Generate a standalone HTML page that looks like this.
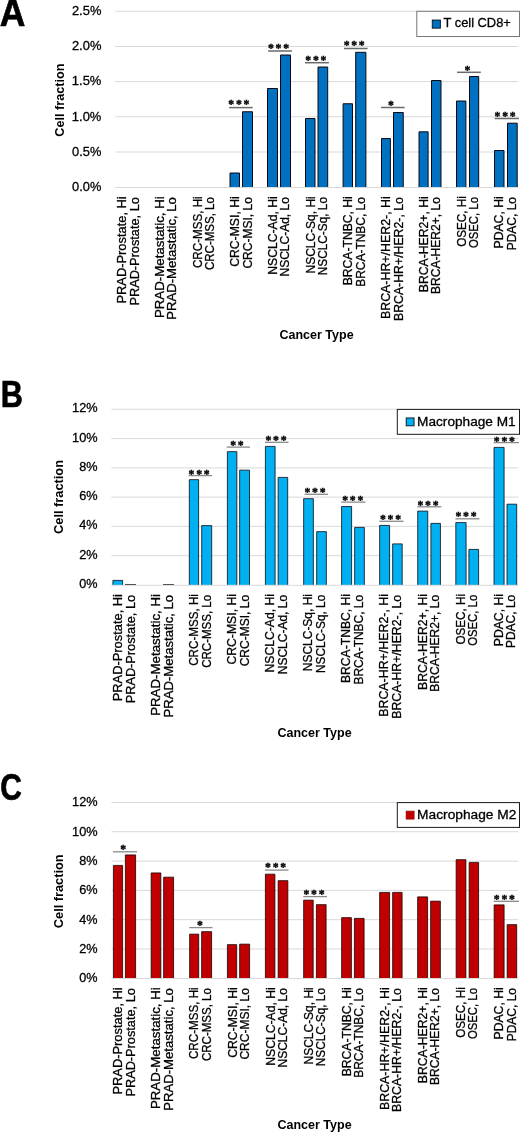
<!DOCTYPE html>
<html><head><meta charset="utf-8"><title>Figure</title>
<style>html,body{margin:0;padding:0;background:#fff}svg{display:block}text{font-family:"Liberation Sans",sans-serif}text.st{font-family:"Liberation Serif",serif;font-weight:bold;stroke:#000;stroke-width:0.4px}text.r{stroke:#000;stroke-width:0.3px}</style>
</head><body>
<svg width="520" height="1133" viewBox="0 0 520 1133">
<rect width="520" height="1133" fill="#fff"/>
<line x1="115.30" y1="11.25" x2="518.30" y2="11.25" stroke="#d9d9d9" stroke-width="1.0"/>
<line x1="115.30" y1="46.50" x2="518.30" y2="46.50" stroke="#d9d9d9" stroke-width="1.0"/>
<line x1="115.30" y1="81.60" x2="518.30" y2="81.60" stroke="#d9d9d9" stroke-width="1.0"/>
<line x1="115.30" y1="116.75" x2="518.30" y2="116.75" stroke="#d9d9d9" stroke-width="1.0"/>
<line x1="115.30" y1="152.00" x2="518.30" y2="152.00" stroke="#d9d9d9" stroke-width="1.0"/>
<text transform="translate(71.95,15.05) scale(0.9752,1)" font-size="13.24" class="r" fill="#000">2.5%</text>
<text transform="translate(71.95,50.30) scale(0.9752,1)" font-size="13.24" class="r" fill="#000">2.0%</text>
<text transform="translate(71.83,85.40) scale(0.9794,1)" font-size="13.24" class="r" fill="#000">1.5%</text>
<text transform="translate(71.83,120.55) scale(0.9794,1)" font-size="13.24" class="r" fill="#000">1.0%</text>
<text transform="translate(72.09,155.80) scale(0.9707,1)" font-size="13.24" class="r" fill="#000">0.5%</text>
<text transform="translate(72.09,191.05) scale(0.9707,1)" font-size="13.24" class="r" fill="#000">0.0%</text>
<path d="M230.00,187.25V173.00H239.50V187.25" fill="#0070c0" stroke="#0a0a14" stroke-width="1.0"/>
<path d="M242.50,187.25V111.75H252.50V187.25" fill="#0070c0" stroke="#0a0a14" stroke-width="1.0"/>
<path d="M267.50,187.25V88.50H277.50V187.25" fill="#0070c0" stroke="#0a0a14" stroke-width="1.0"/>
<path d="M280.50,187.25V55.00H290.50V187.25" fill="#0070c0" stroke="#0a0a14" stroke-width="1.0"/>
<path d="M305.50,187.25V118.50H315.00V187.25" fill="#0070c0" stroke="#0a0a14" stroke-width="1.0"/>
<path d="M318.00,187.25V67.00H327.70V187.25" fill="#0070c0" stroke="#0a0a14" stroke-width="1.0"/>
<path d="M343.10,187.25V103.75H352.50V187.25" fill="#0070c0" stroke="#0a0a14" stroke-width="1.0"/>
<path d="M355.70,187.25V52.30H365.90V187.25" fill="#0070c0" stroke="#0a0a14" stroke-width="1.0"/>
<path d="M381.50,187.25V138.50H390.40V187.25" fill="#0070c0" stroke="#0a0a14" stroke-width="1.0"/>
<path d="M393.50,187.25V112.50H403.25V187.25" fill="#0070c0" stroke="#0a0a14" stroke-width="1.0"/>
<path d="M419.00,187.25V131.80H428.10V187.25" fill="#0070c0" stroke="#0a0a14" stroke-width="1.0"/>
<path d="M431.50,187.25V80.50H441.00V187.25" fill="#0070c0" stroke="#0a0a14" stroke-width="1.0"/>
<path d="M456.50,187.25V101.00H465.90V187.25" fill="#0070c0" stroke="#0a0a14" stroke-width="1.0"/>
<path d="M469.50,187.25V76.50H478.70V187.25" fill="#0070c0" stroke="#0a0a14" stroke-width="1.0"/>
<path d="M494.50,187.25V150.50H504.00V187.25" fill="#0070c0" stroke="#0a0a14" stroke-width="1.0"/>
<path d="M507.50,187.25V123.20H517.20V187.25" fill="#0070c0" stroke="#0a0a14" stroke-width="1.0"/>
<line x1="115.30" y1="187.55" x2="518.30" y2="187.55" stroke="#d9d9d9" stroke-width="1.0"/>
<line x1="229.10" y1="107.60" x2="252.70" y2="107.60" stroke="#6a6a6a" stroke-width="1.5"/>
<text class="st" transform="translate(228.36,108.20) scale(0.84,0.94)" font-size="14.0">*</text>
<text class="st" transform="translate(235.96,108.20) scale(0.84,0.94)" font-size="14.0">*</text>
<text class="st" transform="translate(243.56,108.20) scale(0.84,0.94)" font-size="14.0">*</text>
<line x1="268.10" y1="51.00" x2="291.90" y2="51.00" stroke="#6a6a6a" stroke-width="1.5"/>
<text class="st" transform="translate(267.96,51.60) scale(0.84,0.94)" font-size="14.0">*</text>
<text class="st" transform="translate(275.56,51.60) scale(0.84,0.94)" font-size="14.0">*</text>
<text class="st" transform="translate(283.16,51.60) scale(0.84,0.94)" font-size="14.0">*</text>
<line x1="305.00" y1="62.70" x2="328.85" y2="62.70" stroke="#6a6a6a" stroke-width="1.5"/>
<text class="st" transform="translate(305.31,64.30) scale(0.84,0.94)" font-size="14.0">*</text>
<text class="st" transform="translate(312.91,64.30) scale(0.84,0.94)" font-size="14.0">*</text>
<text class="st" transform="translate(320.51,64.30) scale(0.84,0.94)" font-size="14.0">*</text>
<line x1="343.90" y1="48.50" x2="367.60" y2="48.50" stroke="#6a6a6a" stroke-width="1.5"/>
<text class="st" transform="translate(343.66,49.40) scale(0.84,0.94)" font-size="14.0">*</text>
<text class="st" transform="translate(351.26,49.40) scale(0.84,0.94)" font-size="14.0">*</text>
<text class="st" transform="translate(358.86,49.40) scale(0.84,0.94)" font-size="14.0">*</text>
<line x1="381.00" y1="107.50" x2="404.60" y2="107.50" stroke="#6a6a6a" stroke-width="1.5"/>
<text class="st" transform="translate(388.11,109.40) scale(0.84,0.94)" font-size="14.0">*</text>
<line x1="457.10" y1="72.30" x2="480.80" y2="72.30" stroke="#6a6a6a" stroke-width="1.5"/>
<text class="st" transform="translate(464.56,73.60) scale(0.84,0.94)" font-size="14.0">*</text>
<line x1="494.60" y1="118.50" x2="518.90" y2="118.50" stroke="#6a6a6a" stroke-width="1.5"/>
<text class="st" transform="translate(494.61,120.30) scale(0.84,0.94)" font-size="14.0">*</text>
<text class="st" transform="translate(502.21,120.30) scale(0.84,0.94)" font-size="14.0">*</text>
<text class="st" transform="translate(509.81,120.30) scale(0.84,0.94)" font-size="14.0">*</text>
<text transform="translate(126.10,303.56) rotate(-90) scale(0.9846,1)" font-size="13.09" class="r" fill="#000">PRAD-Prostate, Hi</text>
<text transform="translate(138.50,305.55) rotate(-90) scale(0.9754,1)" font-size="13.09" class="r" fill="#000">PRAD-Prostate, Lo</text>
<text transform="translate(163.82,318.10) rotate(-90) scale(1.0163,1)" font-size="13.09" class="r" fill="#000">PRAD-Metastatic, Hi</text>
<text transform="translate(176.22,319.84) rotate(-90) scale(1.0054,1)" font-size="13.09" class="r" fill="#000">PRAD-Metastatic, Lo</text>
<text transform="translate(201.54,268.08) rotate(-90) scale(0.8902,1)" font-size="13.09" class="r" fill="#000">CRC-MSS, Hi</text>
<text transform="translate(213.94,270.08) rotate(-90) scale(0.8811,1)" font-size="13.09" class="r" fill="#000">CRC-MSS, Lo</text>
<text transform="translate(239.26,266.86) rotate(-90) scale(0.9346,1)" font-size="13.09" class="r" fill="#000">CRC-MSI, Hi</text>
<text transform="translate(251.66,268.60) rotate(-90) scale(0.9198,1)" font-size="13.09" class="r" fill="#000">CRC-MSI, Lo</text>
<text transform="translate(276.98,274.76) rotate(-90) scale(0.9310,1)" font-size="13.09" class="r" fill="#000">NSCLC-Ad, Hi</text>
<text transform="translate(289.38,276.49) rotate(-90) scale(0.9181,1)" font-size="13.09" class="r" fill="#000">NSCLC-Ad, Lo</text>
<text transform="translate(314.70,273.49) rotate(-90) scale(0.9158,1)" font-size="13.09" class="r" fill="#000">NSCLC-Sq, Hi</text>
<text transform="translate(327.10,275.23) rotate(-90) scale(0.9034,1)" font-size="13.09" class="r" fill="#000">NSCLC-Sq, Lo</text>
<text transform="translate(352.42,285.25) rotate(-90) scale(0.9276,1)" font-size="13.09" class="r" fill="#000">BRCA-TNBC, Hi</text>
<text transform="translate(364.82,286.74) rotate(-90) scale(0.9138,1)" font-size="13.09" class="r" fill="#000">BRCA-TNBC, Lo</text>
<text transform="translate(390.14,319.02) rotate(-90) scale(0.9463,1)" font-size="13.09" class="r" fill="#000">BRCA-HR+/HER2-, Hi</text>
<text transform="translate(402.54,321.01) rotate(-90) scale(0.9393,1)" font-size="13.09" class="r" fill="#000">BRCA-HR+/HER2-, Lo</text>
<text transform="translate(427.86,292.26) rotate(-90) scale(0.9335,1)" font-size="13.09" class="r" fill="#000">BRCA-HER2+, Hi</text>
<text transform="translate(440.26,294.00) rotate(-90) scale(0.9226,1)" font-size="13.09" class="r" fill="#000">BRCA-HER2+, Lo</text>
<text transform="translate(465.58,246.80) rotate(-90) scale(0.8915,1)" font-size="13.09" class="r" fill="#000">OSEC, Hi</text>
<text transform="translate(477.98,248.04) rotate(-90) scale(0.8656,1)" font-size="13.09" class="r" fill="#000">OSEC, Lo</text>
<text transform="translate(503.30,248.51) rotate(-90) scale(0.9341,1)" font-size="13.09" class="r" fill="#000">PDAC, Hi</text>
<text transform="translate(515.70,250.24) rotate(-90) scale(0.9145,1)" font-size="13.09" class="r" fill="#000">PDAC, Lo</text>
<text transform="translate(279.50,338.75) scale(0.9664,1)" font-size="12.95" font-weight="bold" fill="#000">Cancer Type</text>
<text transform="translate(64.30,136.66) rotate(-90) scale(0.9796,1)" font-size="12.95" font-weight="bold" fill="#000">Cell fraction</text>
<rect x="416.80" y="11.30" width="102.70" height="25.20" fill="#fff" stroke="#767676" stroke-width="1.0"/>
<rect x="432.25" y="20.05" width="8.10" height="8.10" fill="#0070c0" stroke="#0a0a14" stroke-width="0.9"/>
<text transform="translate(443.51,27.30) scale(0.9840,1)" font-size="13.09" class="r" fill="#000">T cell CD8+</text>
<text transform="translate(-0.29,26.15) scale(0.9286,1)" font-size="38.25" font-weight="bold" stroke="#000" stroke-width="0.7" stroke-linejoin="round" fill="#000">A</text>
<line x1="111.40" y1="409.25" x2="518.30" y2="409.25" stroke="#d9d9d9" stroke-width="1.0"/>
<line x1="111.40" y1="438.60" x2="518.30" y2="438.60" stroke="#d9d9d9" stroke-width="1.0"/>
<line x1="111.40" y1="467.90" x2="518.30" y2="467.90" stroke="#d9d9d9" stroke-width="1.0"/>
<line x1="111.40" y1="497.10" x2="518.30" y2="497.10" stroke="#d9d9d9" stroke-width="1.0"/>
<line x1="111.40" y1="526.40" x2="518.30" y2="526.40" stroke="#d9d9d9" stroke-width="1.0"/>
<line x1="111.40" y1="555.70" x2="518.30" y2="555.70" stroke="#d9d9d9" stroke-width="1.0"/>
<text transform="translate(72.04,412.25) scale(0.9634,1)" font-size="13.24" class="r" fill="#000">12%</text>
<text transform="translate(72.04,441.60) scale(0.9634,1)" font-size="13.24" class="r" fill="#000">10%</text>
<text transform="translate(79.26,470.90) scale(0.9575,1)" font-size="13.24" class="r" fill="#000">8%</text>
<text transform="translate(79.16,500.10) scale(0.9628,1)" font-size="13.24" class="r" fill="#000">6%</text>
<text transform="translate(79.32,529.40) scale(0.9546,1)" font-size="13.24" class="r" fill="#000">4%</text>
<text transform="translate(79.16,558.70) scale(0.9628,1)" font-size="13.24" class="r" fill="#000">2%</text>
<text transform="translate(79.29,588.00) scale(0.9558,1)" font-size="13.24" class="r" fill="#000">0%</text>
<path d="M112.90,585.00V580.40H122.60V585.00" fill="#00b0f0" stroke="#0a0a14" stroke-width="0.8"/>
<line x1="125.00" y1="584.50" x2="136.00" y2="584.50" stroke="#333" stroke-width="1.0"/>
<line x1="163.00" y1="584.50" x2="174.00" y2="584.50" stroke="#333" stroke-width="1.0"/>
<path d="M189.30,585.00V479.65H198.60V585.00" fill="#00b0f0" stroke="#0a0a14" stroke-width="0.8"/>
<path d="M201.70,585.00V525.60H211.70V585.00" fill="#00b0f0" stroke="#0a0a14" stroke-width="0.8"/>
<path d="M227.40,585.00V451.65H236.85V585.00" fill="#00b0f0" stroke="#0a0a14" stroke-width="0.8"/>
<path d="M239.65,585.00V470.15H249.50V585.00" fill="#00b0f0" stroke="#0a0a14" stroke-width="0.8"/>
<path d="M265.40,585.00V446.40H275.10V585.00" fill="#00b0f0" stroke="#0a0a14" stroke-width="0.8"/>
<path d="M278.15,585.00V477.40H287.70V585.00" fill="#00b0f0" stroke="#0a0a14" stroke-width="0.8"/>
<path d="M303.65,585.00V498.65H313.35V585.00" fill="#00b0f0" stroke="#0a0a14" stroke-width="0.8"/>
<path d="M316.65,585.00V531.65H326.35V585.00" fill="#00b0f0" stroke="#0a0a14" stroke-width="0.8"/>
<path d="M341.60,585.00V506.50H351.60V585.00" fill="#00b0f0" stroke="#0a0a14" stroke-width="0.8"/>
<path d="M354.65,585.00V527.40H364.35V585.00" fill="#00b0f0" stroke="#0a0a14" stroke-width="0.8"/>
<path d="M379.65,585.00V525.40H389.60V585.00" fill="#00b0f0" stroke="#0a0a14" stroke-width="0.8"/>
<path d="M392.65,585.00V543.90H402.20V585.00" fill="#00b0f0" stroke="#0a0a14" stroke-width="0.8"/>
<path d="M417.70,585.00V511.10H427.75V585.00" fill="#00b0f0" stroke="#0a0a14" stroke-width="0.8"/>
<path d="M430.90,585.00V523.40H440.45V585.00" fill="#00b0f0" stroke="#0a0a14" stroke-width="0.8"/>
<path d="M455.80,585.00V522.60H466.10V585.00" fill="#00b0f0" stroke="#0a0a14" stroke-width="0.8"/>
<path d="M468.90,585.00V549.40H478.60V585.00" fill="#00b0f0" stroke="#0a0a14" stroke-width="0.8"/>
<path d="M494.00,585.00V447.40H504.10V585.00" fill="#00b0f0" stroke="#0a0a14" stroke-width="0.8"/>
<path d="M507.00,585.00V504.20H516.70V585.00" fill="#00b0f0" stroke="#0a0a14" stroke-width="0.8"/>
<line x1="111.40" y1="585.30" x2="518.30" y2="585.30" stroke="#d9d9d9" stroke-width="1.0"/>
<line x1="188.75" y1="475.60" x2="212.00" y2="475.60" stroke="#8a8a8a" stroke-width="1.3"/>
<text class="st" transform="translate(188.56,477.90) scale(0.84,0.94)" font-size="14.0">*</text>
<text class="st" transform="translate(196.16,477.90) scale(0.84,0.94)" font-size="14.0">*</text>
<text class="st" transform="translate(203.76,477.90) scale(0.84,0.94)" font-size="14.0">*</text>
<line x1="226.75" y1="447.10" x2="250.00" y2="447.10" stroke="#8a8a8a" stroke-width="1.3"/>
<text class="st" transform="translate(230.16,449.40) scale(0.84,0.94)" font-size="14.0">*</text>
<text class="st" transform="translate(237.76,449.40) scale(0.84,0.94)" font-size="14.0">*</text>
<line x1="265.00" y1="442.30" x2="288.50" y2="442.30" stroke="#8a8a8a" stroke-width="1.3"/>
<text class="st" transform="translate(265.46,443.70) scale(0.84,0.94)" font-size="14.0">*</text>
<text class="st" transform="translate(273.06,443.70) scale(0.84,0.94)" font-size="14.0">*</text>
<text class="st" transform="translate(280.66,443.70) scale(0.84,0.94)" font-size="14.0">*</text>
<line x1="304.50" y1="494.30" x2="328.00" y2="494.30" stroke="#8a8a8a" stroke-width="1.3"/>
<text class="st" transform="translate(304.46,495.90) scale(0.84,0.94)" font-size="14.0">*</text>
<text class="st" transform="translate(312.06,495.90) scale(0.84,0.94)" font-size="14.0">*</text>
<text class="st" transform="translate(319.66,495.90) scale(0.84,0.94)" font-size="14.0">*</text>
<line x1="341.25" y1="502.10" x2="365.50" y2="502.10" stroke="#8a8a8a" stroke-width="1.3"/>
<text class="st" transform="translate(342.21,503.70) scale(0.84,0.94)" font-size="14.0">*</text>
<text class="st" transform="translate(349.81,503.70) scale(0.84,0.94)" font-size="14.0">*</text>
<text class="st" transform="translate(357.41,503.70) scale(0.84,0.94)" font-size="14.0">*</text>
<line x1="379.25" y1="521.30" x2="403.50" y2="521.30" stroke="#8a8a8a" stroke-width="1.3"/>
<text class="st" transform="translate(379.96,522.50) scale(0.84,0.94)" font-size="14.0">*</text>
<text class="st" transform="translate(387.56,522.50) scale(0.84,0.94)" font-size="14.0">*</text>
<text class="st" transform="translate(395.16,522.50) scale(0.84,0.94)" font-size="14.0">*</text>
<line x1="417.30" y1="506.80" x2="441.30" y2="506.80" stroke="#8a8a8a" stroke-width="1.3"/>
<text class="st" transform="translate(417.46,508.60) scale(0.84,0.94)" font-size="14.0">*</text>
<text class="st" transform="translate(425.06,508.60) scale(0.84,0.94)" font-size="14.0">*</text>
<text class="st" transform="translate(432.66,508.60) scale(0.84,0.94)" font-size="14.0">*</text>
<line x1="455.40" y1="518.80" x2="479.50" y2="518.80" stroke="#8a8a8a" stroke-width="1.3"/>
<text class="st" transform="translate(455.46,520.40) scale(0.84,0.94)" font-size="14.0">*</text>
<text class="st" transform="translate(463.06,520.40) scale(0.84,0.94)" font-size="14.0">*</text>
<text class="st" transform="translate(470.66,520.40) scale(0.84,0.94)" font-size="14.0">*</text>
<line x1="493.75" y1="442.60" x2="518.90" y2="442.60" stroke="#8a8a8a" stroke-width="1.3"/>
<text class="st" transform="translate(493.86,444.80) scale(0.84,0.94)" font-size="14.0">*</text>
<text class="st" transform="translate(501.46,444.80) scale(0.84,0.94)" font-size="14.0">*</text>
<text class="st" transform="translate(509.06,444.80) scale(0.84,0.94)" font-size="14.0">*</text>
<text transform="translate(122.00,701.31) rotate(-90) scale(0.9846,1)" font-size="13.09" class="r" fill="#000">PRAD-Prostate, Hi</text>
<text transform="translate(134.50,703.30) rotate(-90) scale(0.9754,1)" font-size="13.09" class="r" fill="#000">PRAD-Prostate, Lo</text>
<text transform="translate(160.07,715.85) rotate(-90) scale(1.0163,1)" font-size="13.09" class="r" fill="#000">PRAD-Metastatic, Hi</text>
<text transform="translate(172.57,717.59) rotate(-90) scale(1.0054,1)" font-size="13.09" class="r" fill="#000">PRAD-Metastatic, Lo</text>
<text transform="translate(198.14,665.83) rotate(-90) scale(0.8902,1)" font-size="13.09" class="r" fill="#000">CRC-MSS, Hi</text>
<text transform="translate(210.64,667.83) rotate(-90) scale(0.8811,1)" font-size="13.09" class="r" fill="#000">CRC-MSS, Lo</text>
<text transform="translate(236.21,664.61) rotate(-90) scale(0.9346,1)" font-size="13.09" class="r" fill="#000">CRC-MSI, Hi</text>
<text transform="translate(248.71,666.35) rotate(-90) scale(0.9198,1)" font-size="13.09" class="r" fill="#000">CRC-MSI, Lo</text>
<text transform="translate(274.28,672.51) rotate(-90) scale(0.9310,1)" font-size="13.09" class="r" fill="#000">NSCLC-Ad, Hi</text>
<text transform="translate(286.78,674.24) rotate(-90) scale(0.9181,1)" font-size="13.09" class="r" fill="#000">NSCLC-Ad, Lo</text>
<text transform="translate(312.35,671.24) rotate(-90) scale(0.9158,1)" font-size="13.09" class="r" fill="#000">NSCLC-Sq, Hi</text>
<text transform="translate(324.85,672.98) rotate(-90) scale(0.9034,1)" font-size="13.09" class="r" fill="#000">NSCLC-Sq, Lo</text>
<text transform="translate(350.42,683.00) rotate(-90) scale(0.9276,1)" font-size="13.09" class="r" fill="#000">BRCA-TNBC, Hi</text>
<text transform="translate(362.92,684.49) rotate(-90) scale(0.9138,1)" font-size="13.09" class="r" fill="#000">BRCA-TNBC, Lo</text>
<text transform="translate(388.49,716.77) rotate(-90) scale(0.9463,1)" font-size="13.09" class="r" fill="#000">BRCA-HR+/HER2-, Hi</text>
<text transform="translate(400.99,718.76) rotate(-90) scale(0.9393,1)" font-size="13.09" class="r" fill="#000">BRCA-HR+/HER2-, Lo</text>
<text transform="translate(426.56,690.01) rotate(-90) scale(0.9335,1)" font-size="13.09" class="r" fill="#000">BRCA-HER2+, Hi</text>
<text transform="translate(439.06,691.75) rotate(-90) scale(0.9226,1)" font-size="13.09" class="r" fill="#000">BRCA-HER2+, Lo</text>
<text transform="translate(464.63,644.55) rotate(-90) scale(0.8915,1)" font-size="13.09" class="r" fill="#000">OSEC, Hi</text>
<text transform="translate(477.13,645.79) rotate(-90) scale(0.8656,1)" font-size="13.09" class="r" fill="#000">OSEC, Lo</text>
<text transform="translate(502.70,646.26) rotate(-90) scale(0.9341,1)" font-size="13.09" class="r" fill="#000">PDAC, Hi</text>
<text transform="translate(515.20,647.99) rotate(-90) scale(0.9145,1)" font-size="13.09" class="r" fill="#000">PDAC, Lo</text>
<text transform="translate(277.50,736.75) scale(0.9664,1)" font-size="12.95" font-weight="bold" fill="#000">Cancer Type</text>
<text transform="translate(62.70,533.91) rotate(-90) scale(0.9878,1)" font-size="12.95" font-weight="bold" fill="#000">Cell fraction</text>
<rect x="397.30" y="409.40" width="122.20" height="24.90" fill="#fff" stroke="#1a1a1a" stroke-width="1.0"/>
<rect x="406.20" y="417.95" width="7.85" height="7.85" fill="#00b0f0" stroke="#0a0a14" stroke-width="0.9"/>
<text transform="translate(417.12,425.60) scale(1.0417,1)" font-size="13.09" class="r" fill="#000">Macrophage M1</text>
<text transform="translate(0.78,407.35) scale(0.8106,1)" font-size="37.82" font-weight="bold" stroke="#000" stroke-width="0.7" stroke-linejoin="round" fill="#000">B</text>
<line x1="111.40" y1="802.50" x2="518.30" y2="802.50" stroke="#d9d9d9" stroke-width="1.0"/>
<line x1="111.40" y1="831.75" x2="518.30" y2="831.75" stroke="#d9d9d9" stroke-width="1.0"/>
<line x1="111.40" y1="861.10" x2="518.30" y2="861.10" stroke="#d9d9d9" stroke-width="1.0"/>
<line x1="111.40" y1="890.40" x2="518.30" y2="890.40" stroke="#d9d9d9" stroke-width="1.0"/>
<line x1="111.40" y1="919.70" x2="518.30" y2="919.70" stroke="#d9d9d9" stroke-width="1.0"/>
<line x1="111.40" y1="949.00" x2="518.30" y2="949.00" stroke="#d9d9d9" stroke-width="1.0"/>
<text transform="translate(72.04,806.30) scale(0.9634,1)" font-size="13.24" class="r" fill="#000">12%</text>
<text transform="translate(72.04,835.55) scale(0.9634,1)" font-size="13.24" class="r" fill="#000">10%</text>
<text transform="translate(79.26,864.90) scale(0.9575,1)" font-size="13.24" class="r" fill="#000">8%</text>
<text transform="translate(79.16,894.20) scale(0.9628,1)" font-size="13.24" class="r" fill="#000">6%</text>
<text transform="translate(79.32,923.50) scale(0.9546,1)" font-size="13.24" class="r" fill="#000">4%</text>
<text transform="translate(79.16,952.80) scale(0.9628,1)" font-size="13.24" class="r" fill="#000">2%</text>
<text transform="translate(79.29,982.05) scale(0.9558,1)" font-size="13.24" class="r" fill="#000">0%</text>
<path d="M113.40,978.25V865.40H122.60V978.25" fill="#c00000" stroke="#1a0000" stroke-width="0.8"/>
<path d="M125.40,978.25V854.90H135.60V978.25" fill="#c00000" stroke="#1a0000" stroke-width="0.8"/>
<path d="M151.15,978.25V872.90H160.85V978.25" fill="#c00000" stroke="#1a0000" stroke-width="0.8"/>
<path d="M163.65,978.25V877.15H173.60V978.25" fill="#c00000" stroke="#1a0000" stroke-width="0.8"/>
<path d="M189.65,978.25V934.15H198.70V978.25" fill="#c00000" stroke="#1a0000" stroke-width="0.8"/>
<path d="M201.65,978.25V931.65H211.60V978.25" fill="#c00000" stroke="#1a0000" stroke-width="0.8"/>
<path d="M227.40,978.25V944.65H236.70V978.25" fill="#c00000" stroke="#1a0000" stroke-width="0.8"/>
<path d="M239.65,978.25V944.15H249.60V978.25" fill="#c00000" stroke="#1a0000" stroke-width="0.8"/>
<path d="M265.40,978.25V874.15H274.90V978.25" fill="#c00000" stroke="#1a0000" stroke-width="0.8"/>
<path d="M278.15,978.25V880.65H287.85V978.25" fill="#c00000" stroke="#1a0000" stroke-width="0.8"/>
<path d="M303.65,978.25V900.15H313.20V978.25" fill="#c00000" stroke="#1a0000" stroke-width="0.8"/>
<path d="M316.40,978.25V904.65H326.10V978.25" fill="#c00000" stroke="#1a0000" stroke-width="0.8"/>
<path d="M341.65,978.25V917.65H351.40V978.25" fill="#c00000" stroke="#1a0000" stroke-width="0.8"/>
<path d="M354.40,978.25V918.40H364.10V978.25" fill="#c00000" stroke="#1a0000" stroke-width="0.8"/>
<path d="M379.65,978.25V892.40H389.60V978.25" fill="#c00000" stroke="#1a0000" stroke-width="0.8"/>
<path d="M392.65,978.25V892.40H402.10V978.25" fill="#c00000" stroke="#1a0000" stroke-width="0.8"/>
<path d="M417.65,978.25V896.90H427.60V978.25" fill="#c00000" stroke="#1a0000" stroke-width="0.8"/>
<path d="M430.65,978.25V901.15H440.35V978.25" fill="#c00000" stroke="#1a0000" stroke-width="0.8"/>
<path d="M456.15,978.25V859.65H465.90V978.25" fill="#c00000" stroke="#1a0000" stroke-width="0.8"/>
<path d="M469.15,978.25V862.40H478.60V978.25" fill="#c00000" stroke="#1a0000" stroke-width="0.8"/>
<path d="M494.15,978.25V904.90H504.10V978.25" fill="#c00000" stroke="#1a0000" stroke-width="0.8"/>
<path d="M507.15,978.25V924.65H516.70V978.25" fill="#c00000" stroke="#1a0000" stroke-width="0.8"/>
<line x1="111.40" y1="978.55" x2="518.30" y2="978.55" stroke="#d9d9d9" stroke-width="1.0"/>
<line x1="113.00" y1="851.80" x2="137.00" y2="851.80" stroke="#8a8a8a" stroke-width="1.3"/>
<text class="st" transform="translate(120.31,853.30) scale(0.84,0.94)" font-size="14.0">*</text>
<line x1="189.25" y1="927.60" x2="212.50" y2="927.60" stroke="#8a8a8a" stroke-width="1.3"/>
<text class="st" transform="translate(197.06,929.20) scale(0.84,0.94)" font-size="14.0">*</text>
<line x1="265.00" y1="870.10" x2="288.50" y2="870.10" stroke="#8a8a8a" stroke-width="1.3"/>
<text class="st" transform="translate(265.06,871.20) scale(0.84,0.94)" font-size="14.0">*</text>
<text class="st" transform="translate(272.66,871.20) scale(0.84,0.94)" font-size="14.0">*</text>
<text class="st" transform="translate(280.26,871.20) scale(0.84,0.94)" font-size="14.0">*</text>
<line x1="303.25" y1="896.60" x2="327.00" y2="896.60" stroke="#8a8a8a" stroke-width="1.3"/>
<text class="st" transform="translate(303.46,897.95) scale(0.84,0.94)" font-size="14.0">*</text>
<text class="st" transform="translate(311.06,897.95) scale(0.84,0.94)" font-size="14.0">*</text>
<text class="st" transform="translate(318.66,897.95) scale(0.84,0.94)" font-size="14.0">*</text>
<line x1="493.75" y1="901.30" x2="518.90" y2="901.30" stroke="#8a8a8a" stroke-width="1.3"/>
<text class="st" transform="translate(493.86,902.50) scale(0.84,0.94)" font-size="14.0">*</text>
<text class="st" transform="translate(501.46,902.50) scale(0.84,0.94)" font-size="14.0">*</text>
<text class="st" transform="translate(509.06,902.50) scale(0.84,0.94)" font-size="14.0">*</text>
<text transform="translate(122.30,1094.56) rotate(-90) scale(0.9846,1)" font-size="13.09" class="r" fill="#000">PRAD-Prostate, Hi</text>
<text transform="translate(134.80,1096.55) rotate(-90) scale(0.9754,1)" font-size="13.09" class="r" fill="#000">PRAD-Prostate, Lo</text>
<text transform="translate(160.37,1109.10) rotate(-90) scale(1.0163,1)" font-size="13.09" class="r" fill="#000">PRAD-Metastatic, Hi</text>
<text transform="translate(172.87,1110.84) rotate(-90) scale(1.0054,1)" font-size="13.09" class="r" fill="#000">PRAD-Metastatic, Lo</text>
<text transform="translate(198.44,1059.08) rotate(-90) scale(0.8902,1)" font-size="13.09" class="r" fill="#000">CRC-MSS, Hi</text>
<text transform="translate(210.94,1061.08) rotate(-90) scale(0.8811,1)" font-size="13.09" class="r" fill="#000">CRC-MSS, Lo</text>
<text transform="translate(236.51,1057.86) rotate(-90) scale(0.9346,1)" font-size="13.09" class="r" fill="#000">CRC-MSI, Hi</text>
<text transform="translate(249.01,1059.60) rotate(-90) scale(0.9198,1)" font-size="13.09" class="r" fill="#000">CRC-MSI, Lo</text>
<text transform="translate(274.58,1065.76) rotate(-90) scale(0.9310,1)" font-size="13.09" class="r" fill="#000">NSCLC-Ad, Hi</text>
<text transform="translate(287.08,1067.49) rotate(-90) scale(0.9181,1)" font-size="13.09" class="r" fill="#000">NSCLC-Ad, Lo</text>
<text transform="translate(312.65,1064.49) rotate(-90) scale(0.9158,1)" font-size="13.09" class="r" fill="#000">NSCLC-Sq, Hi</text>
<text transform="translate(325.15,1066.23) rotate(-90) scale(0.9034,1)" font-size="13.09" class="r" fill="#000">NSCLC-Sq, Lo</text>
<text transform="translate(350.72,1076.25) rotate(-90) scale(0.9276,1)" font-size="13.09" class="r" fill="#000">BRCA-TNBC, Hi</text>
<text transform="translate(363.22,1077.74) rotate(-90) scale(0.9138,1)" font-size="13.09" class="r" fill="#000">BRCA-TNBC, Lo</text>
<text transform="translate(388.79,1110.02) rotate(-90) scale(0.9463,1)" font-size="13.09" class="r" fill="#000">BRCA-HR+/HER2-, Hi</text>
<text transform="translate(401.29,1112.01) rotate(-90) scale(0.9393,1)" font-size="13.09" class="r" fill="#000">BRCA-HR+/HER2-, Lo</text>
<text transform="translate(426.86,1083.26) rotate(-90) scale(0.9335,1)" font-size="13.09" class="r" fill="#000">BRCA-HER2+, Hi</text>
<text transform="translate(439.36,1085.00) rotate(-90) scale(0.9226,1)" font-size="13.09" class="r" fill="#000">BRCA-HER2+, Lo</text>
<text transform="translate(464.93,1037.80) rotate(-90) scale(0.8915,1)" font-size="13.09" class="r" fill="#000">OSEC, Hi</text>
<text transform="translate(477.43,1039.04) rotate(-90) scale(0.8656,1)" font-size="13.09" class="r" fill="#000">OSEC, Lo</text>
<text transform="translate(503.00,1039.51) rotate(-90) scale(0.9341,1)" font-size="13.09" class="r" fill="#000">PDAC, Hi</text>
<text transform="translate(515.50,1041.24) rotate(-90) scale(0.9145,1)" font-size="13.09" class="r" fill="#000">PDAC, Lo</text>
<text transform="translate(277.50,1129.25) scale(0.9664,1)" font-size="12.95" font-weight="bold" fill="#000">Cancer Type</text>
<text transform="translate(62.90,928.21) rotate(-90) scale(0.9878,1)" font-size="12.95" font-weight="bold" fill="#000">Cell fraction</text>
<rect x="397.30" y="802.60" width="122.20" height="24.80" fill="#fff" stroke="#1a1a1a" stroke-width="1.0"/>
<rect x="406.20" y="811.20" width="7.85" height="7.85" fill="#c00000" stroke="#a00000" stroke-width="0.9"/>
<text transform="translate(417.12,818.80) scale(1.0501,1)" font-size="13.09" class="r" fill="#000">Macrophage M2</text>
<text transform="translate(0.16,799.95) scale(0.7984,1)" font-size="37.38" font-weight="bold" stroke="#000" stroke-width="0.7" stroke-linejoin="round" fill="#000">C</text>
</svg>
</body></html>
